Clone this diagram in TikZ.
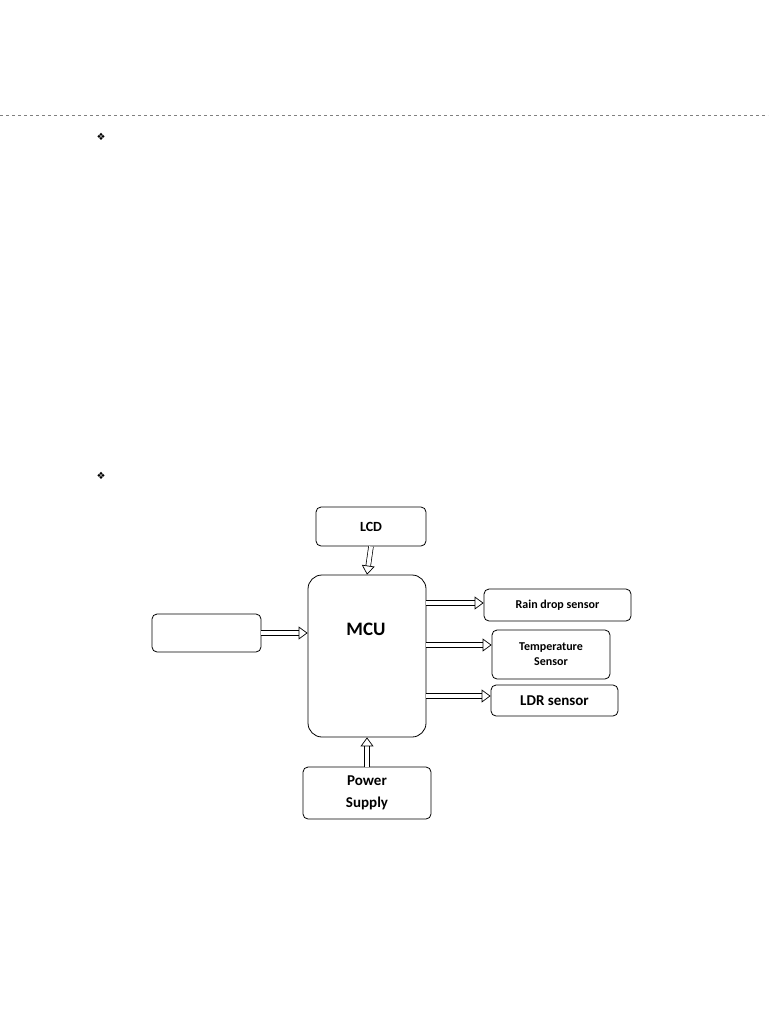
\documentclass[tikz,border=0pt]{standalone}
\usepackage{fontspec}
\setmainfont{Carlito}
\newfontfamily\dejavu{DejaVu Sans}
\usetikzlibrary{arrows.meta}
\begin{document}
\begin{tikzpicture}[x=1pt,y=-1pt,
  box/.style={draw,line width=0.8pt,rounded corners=5pt,inner sep=0pt,align=center},
  harrow/.style={draw=black,double=white,double distance=4pt,line width=0.7pt,
    -{Triangle[open,width=13pt,length=9pt,line width=0.7pt]}},
  bul/.style={font=\dejavu\fontsize{10}{10}\selectfont}]
\useasboundingbox (0,0) rectangle (768,1024);
\draw[gray,dashed,line width=0.7pt] (0,115) -- (768,115);
\node[bul] (b1) at (101,137) {❖};
\node[bul] (b2) at (101,476) {❖};
\node[box,minimum width=110pt,minimum height=39pt,font=\bfseries\fontsize{14}{14}\selectfont] (lcd) at (371,526.5) {LCD};
\node[box,minimum width=118pt,minimum height=162pt,rounded corners=14pt] (mcu) at (367,656) {};
\node[font=\bfseries\fontsize{19}{19}\selectfont] (mcut) at (366,629) {MCU};
\node[box,minimum width=109pt,minimum height=38pt] (left) at (206.5,633) {};
\node[box,minimum width=147pt,minimum height=32pt,font=\fontsize{12}{12}\selectfont] (rain) at (557.5,605) {\textbf{Rain drop sensor}};
\node[box,minimum width=118pt,minimum height=49pt,font=\bfseries\fontsize{12}{15}\selectfont] (temp) at (551,654.5) {Temperature\\Sensor};
\node[box,minimum width=127pt,minimum height=31pt,font=\bfseries\fontsize{15}{15}\selectfont] (ldr) at (554.5,700.5) {LDR sensor};
\node[box,minimum width=128pt,minimum height=52pt,font=\bfseries\fontsize{15}{22}\selectfont] (pow) at (367,793) {Power\\Supply};
\draw[harrow] (lcd.south) -- (mcu.north);
\draw[harrow] (pow.north) -- (mcu.south);
\draw[harrow] (left.east) -- (left.east -| mcu.west);
\draw[harrow] (mcu.east |- 0,603) -- (rain.west |- 0,603);
\draw[harrow] (mcu.east |- 0,645) -- (temp.west |- 0,645);
\draw[harrow] (mcu.east |- 0,696) -- (ldr.west |- 0,696);
\end{tikzpicture}
\end{document}
